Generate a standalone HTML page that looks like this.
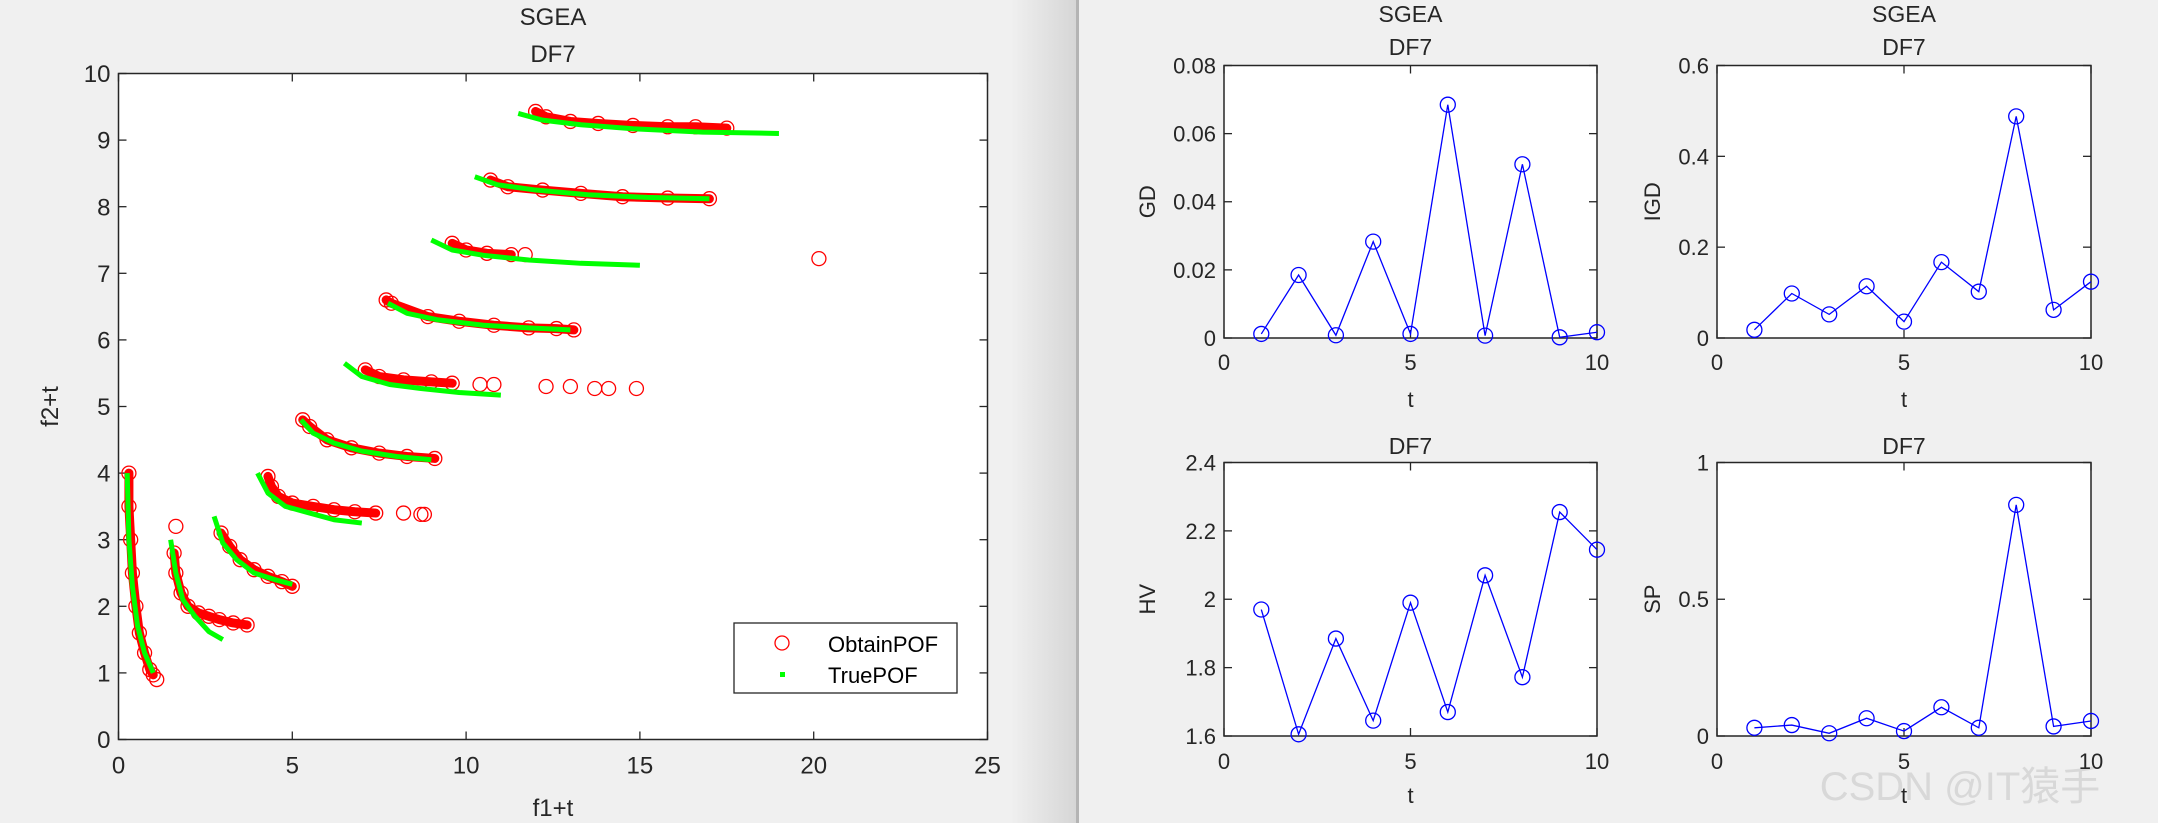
<!DOCTYPE html>
<html><head><meta charset="utf-8"><style>
html,body{margin:0;padding:0;width:2158px;height:823px;overflow:hidden;background:#f0f0f0}
svg{display:block;font-family:"Liberation Sans","Noto Sans CJK SC",sans-serif}
</style></head><body>
<svg id="s" width="2158" height="823" viewBox="0 0 2158 823">
<defs><linearGradient id="sh" x1="0" x2="1"><stop offset="0" stop-color="#f0f0f0"/><stop offset="1" stop-color="#d6d6d6"/></linearGradient></defs>
<rect x="1010" y="0" width="66" height="823" fill="url(#sh)"/>
<rect x="1076" y="0" width="3" height="823" fill="#b4b4b4"/>
<text x="1960" y="800" font-size="40" fill="#d8d8d8" text-anchor="middle">CSDN @IT猿手</text>
</svg>
<script>
// ---- left chart data ----
const trueFronts = [
 [[0.25,4.0],[0.3,3.0],[0.4,2.3],[0.55,1.7],[0.75,1.3],[1.0,1.0]],
 [[1.5,3.0],[1.65,2.5],[1.85,2.1],[2.2,1.85],[2.6,1.62],[3.0,1.5]],
 [[2.75,3.35],[3.0,2.95],[3.4,2.7],[3.9,2.5],[4.5,2.4],[5.0,2.33]],
 [[4.0,4.0],[4.3,3.7],[4.8,3.5],[5.5,3.4],[6.2,3.3],[7.0,3.25]],
 [[5.25,4.8],[5.6,4.6],[6.2,4.45],[7.0,4.33],[8.0,4.25],[9.0,4.2]],
 [[6.5,5.65],[7.0,5.45],[7.8,5.33],[8.7,5.27],[9.8,5.21],[11.0,5.17]],
 [[7.75,6.55],[8.3,6.4],[9.2,6.3],[10.5,6.22],[11.8,6.18],[13.0,6.15]],
 [[9.0,7.5],[9.6,7.35],[10.5,7.27],[11.8,7.2],[13.3,7.15],[15.0,7.12]],
 [[10.25,8.45],[10.9,8.33],[12.0,8.25],[13.5,8.18],[15.2,8.14],[17.0,8.12]],
 [[11.5,9.4],[12.2,9.3],[13.3,9.23],[14.8,9.17],[16.8,9.12],[19.0,9.1]]
];
const obtainFronts = [
 [[0.3,4.0],[0.3,3.5],[0.35,3.0],[0.4,2.5],[0.5,2.0],[0.6,1.6],[0.75,1.3],[0.9,1.05],[1.0,0.97]],
 [[1.6,2.8],[1.65,2.5],[1.8,2.2],[2.0,2.0],[2.3,1.9],[2.6,1.85],[2.9,1.8],[3.3,1.75],[3.7,1.72]],
 [[2.95,3.1],[3.2,2.9],[3.5,2.7],[3.9,2.55],[4.3,2.45],[4.7,2.37],[5.0,2.3]],
 [[4.3,3.95],[4.4,3.8],[4.6,3.65],[5.0,3.55],[5.6,3.5],[6.2,3.45],[6.8,3.42],[7.4,3.4]],
 [[5.3,4.8],[5.5,4.7],[6.0,4.5],[6.7,4.38],[7.5,4.3],[8.3,4.25],[9.1,4.22]],
 [[7.1,5.55],[7.5,5.45],[8.2,5.4],[9.0,5.37],[9.6,5.35]],
 [[7.7,6.6],[7.85,6.55],[8.9,6.35],[9.8,6.28],[10.8,6.22],[11.8,6.18],[12.6,6.17],[13.1,6.15]],
 [[9.6,7.45],[10.0,7.35],[10.6,7.3],[11.3,7.28]],
 [[10.7,8.4],[11.2,8.3],[12.2,8.25],[13.3,8.2],[14.5,8.15],[15.8,8.13],[17.0,8.12]],
 [[12.0,9.43],[12.3,9.35],[13.0,9.28],[13.8,9.25],[14.8,9.22],[15.8,9.2],[16.6,9.2],[17.5,9.18]]
];
const obtainScatter = [[1.65,3.2],[8.2,3.4],[8.7,3.38],[8.8,3.38],[10.4,5.33],[10.8,5.33],[12.3,5.3],[13.0,5.3],[13.7,5.27],[14.1,5.27],[14.9,5.27],[11.7,7.28],[20.15,7.22],[1.1,0.9]];
const leftXTicks = [0,5,10,15,20,25];
const leftYTicks = [0,1,2,3,4,5,6,7,8,9,10];
// ---- right charts data ----
const tVals = [1,2,3,4,5,6,7,8,9,10];
const gdVals = [0.0012,0.0185,0.0008,0.0283,0.0012,0.0685,0.0007,0.051,0.0002,0.0017];
const igdVals = [0.018,0.098,0.052,0.114,0.036,0.167,0.102,0.488,0.062,0.124];
const hvVals = [1.97,1.605,1.885,1.645,1.99,1.67,2.07,1.772,2.255,2.145];
const spVals = [0.03,0.04,0.01,0.065,0.018,0.105,0.03,0.845,0.035,0.055];
const tTicks = [0,5,10];
const gdTicks = [0,0.02,0.04,0.06,0.08];
const igdTicks = [0,0.2,0.4,0.6];
const hvTicks = [1.6,1.8,2,2.2,2.4];
const spTicks = [0,0.5,1];

const NS='http://www.w3.org/2000/svg';
const svg=document.getElementById('s');
function mk(tag,attrs,parent,txt){const e=document.createElementNS(NS,tag);for(const k in attrs)e.setAttribute(k,attrs[k]);if(txt!==undefined)e.textContent=txt;(parent||svg).appendChild(e);return e;}
const TC='#262626';

function axes(o){
  const g=mk('g',{});
  
  
  const r=mk('rect',{x:o.x0,y:o.y0,width:o.x1-o.x0,height:o.y1-o.y0,fill:'#fff',stroke:TC,'stroke-width':1.5},g);
  
  
  const sx=v=>o.x0+(v-o.xmin)/(o.xmax-o.xmin)*(o.x1-o.x0);
  const sy=v=>o.y1-(v-o.ymin)/(o.ymax-o.ymin)*(o.y1-o.y0);
  o.xt.forEach(v=>{const x=sx(v);
    mk('line',{x1:x,x2:x,y1:o.y1,y2:o.y1-8,stroke:TC,'stroke-width':1.3},g);
    mk('line',{x1:x,x2:x,y1:o.y0,y2:o.y0+8,stroke:TC,'stroke-width':1.3},g);
    const t=mk('text',{x:x,y:o.y1+o.xtOff,'font-size':o.fs,'text-anchor':'middle',fill:TC},g,String(v));
    
    });
  o.yt.forEach(v=>{const y=sy(v);
    mk('line',{x1:o.x0,x2:o.x0+8,y1:y,y2:y,stroke:TC,'stroke-width':1.3},g);
    mk('line',{x1:o.x1,x2:o.x1-8,y1:y,y2:y,stroke:TC,'stroke-width':1.3},g);
    const t=mk('text',{x:o.x0-8,y:y+o.fs*0.36,'font-size':o.fs,'text-anchor':'end',fill:TC},g,String(v));
    
    });
  const xl=mk('text',{x:(o.x0+o.x1)/2,y:o.xlY,'font-size':o.fs,'text-anchor':'middle',fill:TC},g,o.xl);
  
  
  const yl=mk('text',{x:0,y:0,'font-size':o.fs,'text-anchor':'middle',fill:TC,transform:`translate(${o.ylX},${(o.y0+o.y1)/2}) rotate(-90)`},g,o.yl);
  
  
  o.titles.forEach(tt=>{const t=mk('text',{x:(o.x0+o.x1)/2,y:tt[1],'font-size':o.tfs||o.fs,'text-anchor':'middle',fill:TC},g,tt[0]);
    
    });
  return {g,sx,sy};
}

// left chart
const L=axes({name:'pof-chart',x0:118.5,x1:987.5,y0:73.5,y1:739.5,xmin:0,xmax:25,ymin:0,ymax:10,xt:leftXTicks,yt:leftYTicks,fs:24,tfs:24,xtOff:34,xlY:816,xl:'f1+t',ylX:58,yl:'f2+t',titles:[['SGEA',25],['DF7',62]]});
obtainFronts.forEach(f=>{
  const p=mk('polyline',{points:f.map(d=>L.sx(d[0])+','+L.sy(d[1])).join(' '),fill:'none',stroke:'#ff0000','stroke-width':9,'stroke-linecap':'round','stroke-linejoin':'round'},L.g);
  
  
  f.forEach(d=>{const c=mk('circle',{cx:L.sx(d[0]),cy:L.sy(d[1]),r:7,fill:'none',stroke:'#ff0000','stroke-width':1.3},L.g);
    
    });
});
obtainScatter.forEach(d=>{const c=mk('circle',{cx:L.sx(d[0]),cy:L.sy(d[1]),r:7,fill:'none',stroke:'#ff0000','stroke-width':1.3},L.g);
  
  });
trueFronts.forEach(f=>{
  const p=mk('polyline',{points:f.map(d=>L.sx(d[0])+','+L.sy(d[1])).join(' '),fill:'none',stroke:'#00ff00','stroke-width':5,'stroke-linejoin':'round'},L.g);
  
  
});
// legend
const lg=mk('g',{});


mk('rect',{x:734,y:623,width:223,height:70,fill:'#fff',stroke:TC,'stroke-width':1.3},lg);
mk('circle',{cx:782,cy:643,r:7,fill:'none',stroke:'#ff0000','stroke-width':1.3},lg);
mk('rect',{x:780,y:672,width:5,height:5,fill:'#00ff00'},lg);
const le1=mk('text',{x:828,y:652,'font-size':22,fill:'#000'},lg,'ObtainPOF');


const le2=mk('text',{x:828,y:683,'font-size':22,fill:'#000'},lg,'TruePOF');



// right charts
function small(name,x0,x1,y0,y1,ymin,ymax,yt,vals,yl,ylX,titles,xtY,xlY){
  const A=axes({name,x0,x1,y0,y1,xmin:0,xmax:10,ymin,ymax,xt:tTicks,yt,fs:22,tfs:23,xtOff:xtY,xlY,xl:'t',ylX,yl,titles});
  const p=mk('polyline',{points:tVals.map((t,i)=>A.sx(t)+','+A.sy(vals[i])).join(' '),fill:'none',stroke:'#0000ff','stroke-width':1.3},A.g);
  
  
  tVals.forEach((t,i)=>{const c=mk('circle',{cx:A.sx(t),cy:A.sy(vals[i]),r:7.5,fill:'none',stroke:'#0000ff','stroke-width':1.3},A.g);
    
    });
}
small('gd-chart',1224,1597,65.5,338,0,0.08,gdTicks,gdVals,'GD',1155,[['SGEA',22],['DF7',55]],32,407);
small('igd-chart',1717,2091,65.5,338,0,0.6,igdTicks,igdVals,'IGD',1660,[['SGEA',22],['DF7',55]],32,407);
small('hv-chart',1224,1597,462.5,736,1.6,2.4,hvTicks,hvVals,'HV',1155,[['DF7',454]],33,803);
small('sp-chart',1717,2091,462.5,736,0,1,spTicks,spVals,'SP',1660,[['DF7',454]],33,803);
</script>
</body></html>
